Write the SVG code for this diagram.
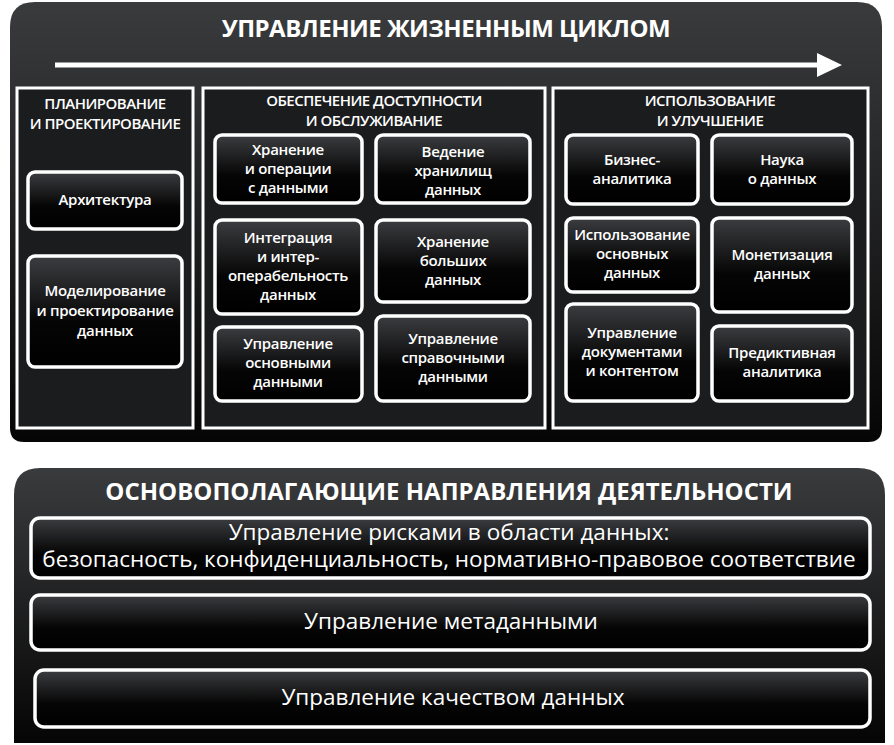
<svg xmlns="http://www.w3.org/2000/svg" width="894" height="745" viewBox="0 0 894 745">
<defs>
<linearGradient id="pg" x1="0" y1="0" x2="0" y2="1"><stop offset="0" stop-color="#3a3b3d"/><stop offset="1" stop-color="#050505"/></linearGradient>
<linearGradient id="bg" x1="0" y1="0" x2="0" y2="1"><stop offset="0" stop-color="#3c3d40"/><stop offset="0.6" stop-color="#050505"/><stop offset="1" stop-color="#000"/></linearGradient>
<marker id="ah" markerWidth="6" markerHeight="6" refX="1" refY="3" orient="auto" markerUnits="strokeWidth"><path d="M0,0.6 L5,3 L0,5.4 Z" fill="#fff"/></marker>
</defs>
<style>
.col{fill:#1b1c1e;stroke:#fff;stroke-width:3}
.bx{fill:url(#bg);stroke:#fff;stroke-width:3.5}
.t{font-family:"Open Sans","DejaVu Sans",sans-serif;fill:#fff;text-anchor:middle;font-weight:600;font-size:15px;letter-spacing:-0.3px}
.h{font-family:"Open Sans","DejaVu Sans",sans-serif;fill:#fff;text-anchor:middle;font-size:15px;font-weight:600;letter-spacing:-0.5px}
.big{font-family:"Open Sans","DejaVu Sans",sans-serif;fill:#fff;text-anchor:middle;font-weight:700;font-size:24px}
.r{font-family:"Open Sans","DejaVu Sans",sans-serif;fill:#fff;text-anchor:middle;font-size:22.5px}
</style>
<path d="M35,2 H857 Q882,2 882,27 V428 Q882,442 868,442 H24 Q10,442 10,428 V27 Q10,2 35,2 Z" fill="url(#pg)"/>
<text class="big" x="446" y="37" letter-spacing="-0.5">УПРАВЛЕНИЕ ЖИЗНЕННЫМ ЦИКЛОМ</text>
<g id="connectors"><line x1="55" y1="65" x2="822" y2="65" stroke="#fff" stroke-width="5" marker-end="url(#ah)"/></g>
<g id="col1"><rect class="col" x="17" y="88" width="176" height="340"/>
<text class="h" x="105" y="109" letter-spacing="-0.9"><tspan x="105">ПЛАНИРОВАНИЕ</tspan><tspan x="105" dy="20">И ПРОЕКТИРОВАНИЕ</tspan></text></g>
<g id="col2"><rect class="col" x="203" y="88" width="342" height="340"/>
<text class="h" x="374" y="106"><tspan x="374">ОБЕСПЕЧЕНИЕ ДОСТУПНОСТИ</tspan><tspan x="374" dy="20">И ОБСЛУЖИВАНИЕ</tspan></text></g>
<g id="col3"><rect class="col" x="553" y="88" width="315" height="340"/>
<text class="h" x="710" y="106"><tspan x="710">ИСПОЛЬЗОВАНИЕ</tspan><tspan x="710" dy="20">И УЛУЧШЕНИЕ</tspan></text></g>

<g id="n-arch"><rect class="bx" x="28" y="172" width="154" height="57" rx="7"/><text class="t" x="105" y="205">Архитектура</text></g>
<g id="n-model"><rect class="bx" x="28" y="256" width="154" height="111" rx="7"/><text class="t" x="105" y="296"><tspan x="105">Моделирование</tspan><tspan x="105" dy="20">и проектирование</tspan><tspan x="105" dy="20">данных</tspan></text></g>

<g id="n-store"><rect class="bx" x="215" y="135" width="147" height="68" rx="7"/><text class="t" x="288" y="155"><tspan x="288">Хранение</tspan><tspan x="288" dy="19">и операции</tspan><tspan x="288" dy="19">с данными</tspan></text></g>
<g id="n-integ"><rect class="bx" x="215" y="220" width="147" height="94" rx="7"/><text class="t" x="288" y="243"><tspan x="288">Интеграция</tspan><tspan x="288" dy="19">и интер-</tspan><tspan x="288" dy="19">операбельность</tspan><tspan x="288" dy="19">данных</tspan></text></g>
<g id="n-mdm"><rect class="bx" x="215" y="327" width="147" height="74" rx="7"/><text class="t" x="288" y="349"><tspan x="288">Управление</tspan><tspan x="288" dy="19">основными</tspan><tspan x="288" dy="19">данными</tspan></text></g>
<g id="n-dw"><rect class="bx" x="376" y="135" width="154" height="68" rx="7"/><text class="t" x="453" y="157"><tspan x="453">Ведение</tspan><tspan x="453" dy="19">хранилищ</tspan><tspan x="453" dy="19">данных</tspan></text></g>
<g id="n-big"><rect class="bx" x="376" y="220" width="154" height="82" rx="7"/><text class="t" x="453" y="247"><tspan x="453">Хранение</tspan><tspan x="453" dy="19">больших</tspan><tspan x="453" dy="19">данных</tspan></text></g>
<g id="n-ref"><rect class="bx" x="376" y="316" width="154" height="85" rx="7"/><text class="t" x="453" y="344"><tspan x="453">Управление</tspan><tspan x="453" dy="19">справочными</tspan><tspan x="453" dy="19">данными</tspan></text></g>

<g id="n-bi"><rect class="bx" x="566" y="135" width="132" height="69" rx="7"/><text class="t" x="632" y="165"><tspan x="632">Бизнес-</tspan><tspan x="632" dy="19">аналитика</tspan></text></g>
<g id="n-use"><rect class="bx" x="566" y="218" width="132" height="74" rx="7"/><text class="t" x="632" y="240" letter-spacing="-0.6"><tspan x="632">Использование</tspan><tspan x="632" dy="19">основных</tspan><tspan x="632" dy="19">данных</tspan></text></g>
<g id="n-doc"><rect class="bx" x="566" y="304" width="132" height="97" rx="7"/><text class="t" x="632" y="338"><tspan x="632">Управление</tspan><tspan x="632" dy="19">документами</tspan><tspan x="632" dy="19">и контентом</tspan></text></g>
<g id="n-ds"><rect class="bx" x="712" y="135" width="140" height="69" rx="7"/><text class="t" x="782" y="165"><tspan x="782">Наука</tspan><tspan x="782" dy="19">о данных</tspan></text></g>
<g id="n-mon"><rect class="bx" x="712" y="218" width="140" height="94" rx="7"/><text class="t" x="782" y="260"><tspan x="782">Монетизация</tspan><tspan x="782" dy="19">данных</tspan></text></g>
<g id="n-pred"><rect class="bx" x="712" y="326" width="140" height="75" rx="7"/><text class="t" x="782" y="358"><tspan x="782">Предиктивная</tspan><tspan x="782" dy="19">аналитика</tspan></text></g>

<path d="M40,468 H858 Q885,468 885,495 V743 H14 V495 Q14,468 40,468 Z" fill="url(#pg)"/>
<text class="big" x="449" y="500">ОСНОВОПОЛАГАЮЩИЕ НАПРАВЛЕНИЯ ДЕЯТЕЛЬНОСТИ</text>
<g id="n-risk"><rect class="bx" x="31" y="518" width="839" height="60" rx="9"/><text class="r" x="449" y="540"><tspan x="449">Управление рисками в области данных:</tspan><tspan x="449" dy="27">безопасность, конфиденциальность, нормативно-правовое соответствие</tspan></text></g>
<g id="n-meta"><rect class="bx" x="31" y="595" width="839" height="55" rx="9"/><text class="r" x="451" y="629">Управление метаданными</text></g>
<g id="n-qual"><rect class="bx" x="35" y="670" width="835" height="57" rx="9"/><text class="r" x="453" y="705">Управление качеством данных</text></g>
</svg>
